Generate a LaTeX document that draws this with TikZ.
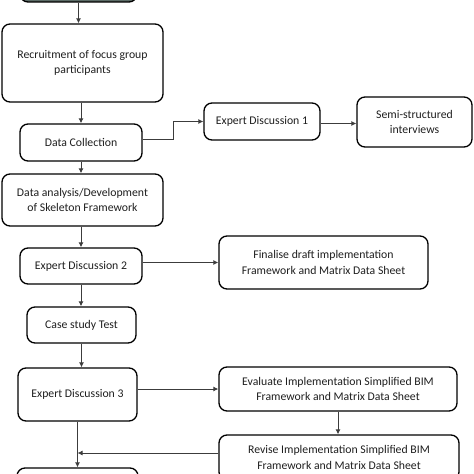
\documentclass[tikz,border=0pt]{standalone}
\usepackage{fontspec}
\setmainfont{Carlito}
\usepackage{tikz}
\usetikzlibrary{arrows.meta,calc,positioning}
\definecolor{kopfgrau}{RGB}{92,108,103}
\definecolor{textgrau}{RGB}{30,30,30}
\definecolor{liniengrau}{RGB}{60,60,60}
\tikzset{
  kasten/.style={draw=black,line width=1.3bp,rounded corners=8bp,align=center,
    inner sep=0pt,text=textgrau,font=\fontsize{11.8}{15.5}\selectfont},
  pfeil/.style={draw=liniengrau,line width=0.9bp,-{Latex[length=5bp,width=5bp]}}
}
\begin{document}
\begin{tikzpicture}[x=1bp,y=-1bp]
\clip (0,0) rectangle (474,474);
\useasboundingbox (0,0) rectangle (474,474);
%linke Spalte
\node[kasten,fill=kopfgrau,minimum width=117bp,minimum height=32bp] (kopf) at (78.5,-14) {};
\node[kasten,minimum width=161bp,minimum height=78bp] (rekrut) at (82.5,63) {Recruitment of focus group\\participants};
\node[kasten,minimum width=122bp,minimum height=37bp] (daten) at (81,142.5) {Data Collection};
\node[kasten,minimum width=161bp,minimum height=52bp] (analyse) at (82.5,200) {Data analysis/Development\\of Skeleton Framework};
\node[kasten,minimum width=122bp,minimum height=36bp] (disk2) at (81,266) {Expert Discussion 2};
\node[kasten,minimum width=109bp,minimum height=36bp] (fall) at (81.5,325) {Case study Test};
\node[kasten,minimum width=119bp,minimum height=53bp] (disk3) at (77.5,394.5) {Expert Discussion 3};
\node[kasten,minimum width=121bp,minimum height=42bp] (ende) at (77.5,489) {};
%rechte Seite
\node[kasten,minimum width=116bp,minimum height=37bp] (disk1) at (262,121.5) {Expert Discussion 1};
\node[kasten,minimum width=115bp,minimum height=50bp] (interv) at (414.5,122) {Semi-structured\\interviews};
\node[kasten,minimum width=209bp,minimum height=53bp] (entwurf) at (323.5,262.5) {Finalise draft implementation\\Framework and Matrix Data Sheet};
\node[kasten,minimum width=238bp,minimum height=44bp] (bewert) at (338,389) {Evaluate Implementation Simplified BIM\\Framework and Matrix Data Sheet};
\node[kasten,minimum width=240bp,minimum height=45bp] (revid) at (339,457.5) {Revise Implementation Simplified BIM\\Framework and Matrix Data Sheet};
%Pfeile
\draw[pfeil] (kopf.south) -- (kopf.south |- rekrut.north);
\draw[pfeil] (rekrut.south -| daten.north) -- (daten.north);
\draw[pfeil] (daten.south) -- (daten.south |- analyse.north);
\draw[pfeil] (analyse.south -| disk2.north) -- (disk2.north);
\draw[pfeil] (disk2.south) -- (disk2.south |- fall.north);
\draw[pfeil] (fall.south) -- (fall.south |- disk3.north);
\draw[pfeil] (disk3.south) -- (disk3.south |- ende.north);
\draw[pfeil] ([yshift=3bp]daten.east) -- ++(31,0) |- (disk1.west);
\draw[pfeil] ([yshift=-2bp]disk1.east) -- ([yshift=-2bp]disk1.east -| interv.west);
\draw[pfeil] (entwurf.west -| disk2.east) -- (entwurf.west);
\draw[pfeil] (bewert.west -| disk3.east) -- (bewert.west);
\draw[pfeil] (bewert.south) -- (bewert.south |- revid.north);
\draw[pfeil] ([yshift=4.5bp]revid.west) -- ([yshift=4.5bp]revid.west -| disk3.south);
\end{tikzpicture}
\end{document}
